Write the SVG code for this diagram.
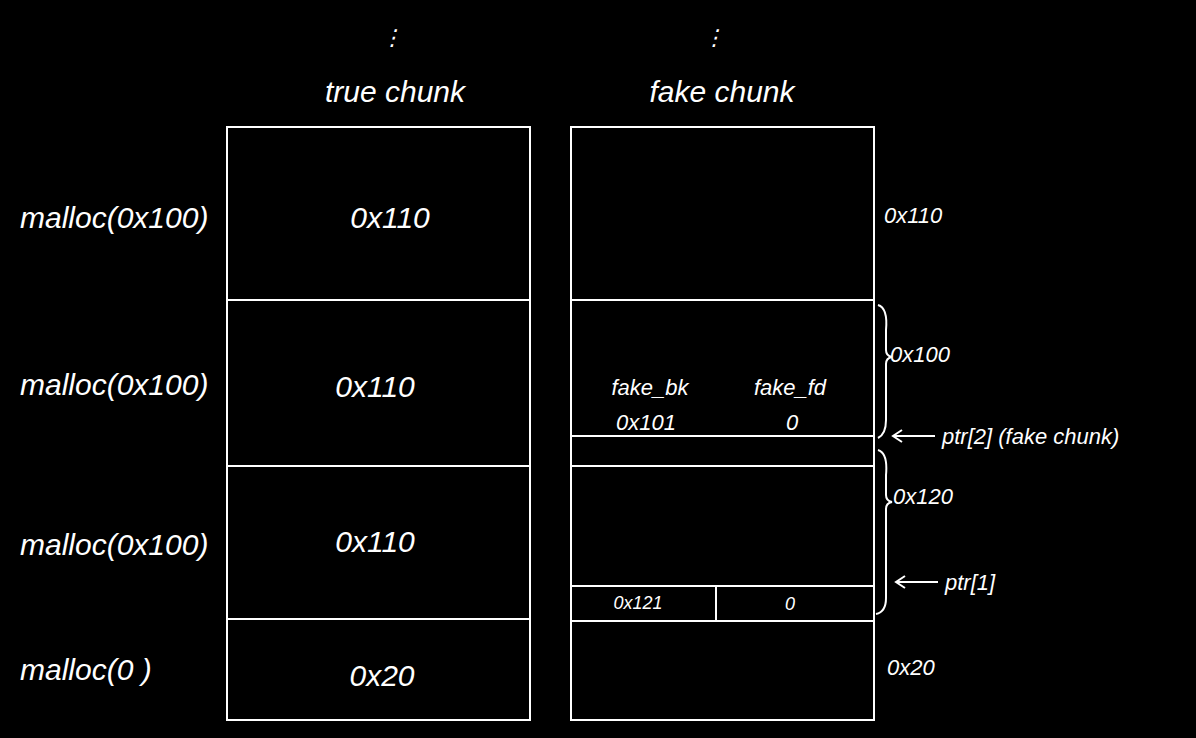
<svg xmlns="http://www.w3.org/2000/svg" width="1196" height="738" viewBox="0 0 1196 738">
<style>
.l{stroke:#fff;stroke-width:2;fill:none}
text{fill:#fff;font-family:"Liberation Sans",sans-serif;font-style:italic}
.b{font-size:30px}.m{font-size:22px}.s{font-size:18px}
</style>
<rect width="1196" height="738" fill="#000"/>
<g id="header">
<text class="b" x="395" y="102" text-anchor="middle">true chunk</text>
<text class="b" x="722" y="102" text-anchor="middle">fake chunk</text>
<text class="m" x="392" y="45" text-anchor="middle">⋮</text>
<text class="m" x="714" y="45" text-anchor="middle">⋮</text>
</g>
<g id="true-chunk">
<rect class="l" x="227" y="127" width="303" height="593"/>
<line class="l" x1="227" y1="300" x2="530" y2="300"/>
<line class="l" x1="227" y1="466" x2="530" y2="466"/>
<line class="l" x1="227" y1="619" x2="530" y2="619"/>
<text class="b" x="390" y="228" text-anchor="middle">0x110</text>
<text class="b" x="375" y="397" text-anchor="middle">0x110</text>
<text class="b" x="375" y="552" text-anchor="middle">0x110</text>
<text class="b" x="382" y="686" text-anchor="middle">0x20</text>
</g>
<g id="malloc-labels">
<text class="b" x="20" y="228">malloc(0x100)</text>
<text class="b" x="20" y="395">malloc(0x100)</text>
<text class="b" x="20" y="555">malloc(0x100)</text>
<text class="b" x="20" y="680">malloc(0 )</text>
</g>
<g id="fake-chunk">
<rect class="l" x="571" y="127" width="303" height="593"/>
<line class="l" x1="571" y1="300" x2="874" y2="300"/>
<line class="l" x1="571" y1="436" x2="874" y2="436"/>
<line class="l" x1="571" y1="466" x2="874" y2="466"/>
<line class="l" x1="571" y1="586" x2="874" y2="586"/>
<line class="l" x1="571" y1="621" x2="874" y2="621"/>
<line class="l" x1="716" y1="586" x2="716" y2="621"/>
<text class="m" x="650" y="395" text-anchor="middle">fake_bk</text>
<text class="m" x="646" y="430" text-anchor="middle">0x101</text>
<text class="m" x="790" y="395" text-anchor="middle">fake_fd</text>
<text class="m" x="792" y="430" text-anchor="middle">0</text>
<text class="s" x="638" y="609" text-anchor="middle">0x121</text>
<text class="s" x="790" y="610" text-anchor="middle">0</text>
</g>
<g id="right-labels">
<text class="m" x="884" y="223">0x110</text>
<text class="m" x="890" y="362">0x100</text>
<text class="m" x="893" y="504">0x120</text>
<text class="m" x="887" y="675">0x20</text>
<text class="m" x="942" y="444">ptr[2] (fake chunk)</text>
<text class="m" x="945" y="590">ptr[1]</text>
</g>
<g id="connectors">
<path class="l" d="M878 305 Q888 308 886 330 L886 350 Q886 356 892 357 Q886 358 886 364 L886 420 Q886 434 878 438"/>
<path class="l" d="M878 450 Q888 453 886 475 L886 495 Q886 501 892 502 Q886 503 886 509 L886 598 Q886 612 876 614"/>
<path class="l" d="M935 436 L893 436 M902 430 L893 436 L902 442"/>
<path class="l" d="M938 582 L896 582 M905 576 L896 582 L905 588"/>
</g>
</svg>
